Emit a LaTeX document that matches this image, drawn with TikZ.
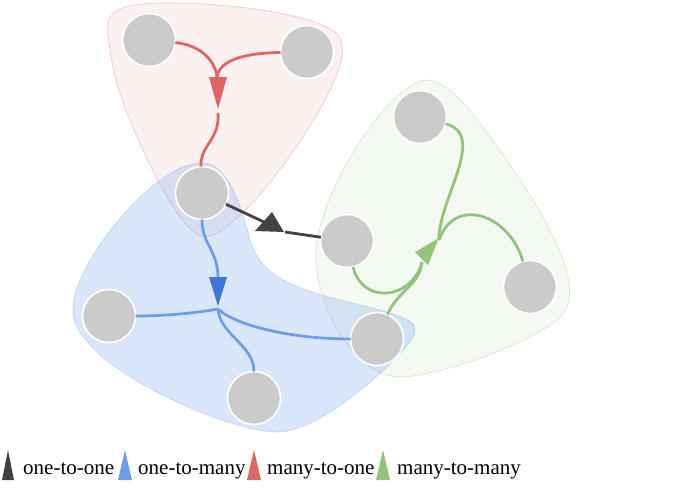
\documentclass[tikz,border=0pt]{standalone}
\usepackage{fontspec}
\setmainfont{Liberation Serif}
\definecolor{nodefill}{HTML}{CBCBCB}
\definecolor{redc}{HTML}{E06666}
\definecolor{bluec}{HTML}{6D9EEB}
\definecolor{bluedark}{HTML}{3C78D8}
\definecolor{greenc}{HTML}{93C47D}
\definecolor{blackc}{HTML}{434343}
\tikzset{
  vert/.style={circle, fill=nodefill, draw=white, line width=1.6pt, minimum size=53pt, inner sep=0pt, outer sep=0pt},
  edgeline/.style={line width=2.8pt},
  legtext/.style={anchor=base west, inner sep=0pt, font=\fontsize{21}{25}\selectfont},
  redhull/.style={fill=redc, fill opacity=0.09, draw=redc, draw opacity=0.3, line width=0.8pt},
  bluehull/.style={fill=bluec, fill opacity=0.25, draw=bluec, draw opacity=0.3, line width=0.8pt},
  greenhull/.style={fill=greenc, fill opacity=0.1, draw=greenc, draw opacity=0.3, line width=0.8pt},
}
\begin{document}
\begin{tikzpicture}[x=1pt,y=-1pt]
\useasboundingbox (0,0) rectangle (685,491);
% hulls
\path[redhull] (108,35) .. controls (105,10) and (120,4) .. (160,3)
  .. controls (230,2) and (320,15) .. (338,35)
  .. controls (348,50) and (340,70) .. (325,100)
  .. controls (290,165) and (230,237) .. (205,237)
  .. controls (185,238) and (150,170) .. (130,120)
  .. controls (115,85) and (110,55) .. (108,35) -- cycle;
\path[greenhull] (427,80) .. controls (450,80) and (480,120) .. (520,180)
  .. controls (560,240) and (575,280) .. (568,305)
  .. controls (560,335) and (440,377) .. (400,377)
  .. controls (360,377) and (320,320) .. (316,260)
  .. controls (312,200) and (390,80) .. (427,80) -- cycle;
\path[bluehull] (73,310) .. controls (70,270) and (150,165) .. (200,163)
  .. controls (225,160) and (240,200) .. (250,240)
  .. controls (262,280) and (300,290) .. (360,305)
  .. controls (400,315) and (420,320) .. (414,335)
  .. controls (405,355) and (320,435) .. (275,432)
  .. controls (230,430) and (140,390) .. (100,355)
  .. controls (80,335) and (73,325) .. (73,310) -- cycle;
% nodes
\node[vert] (r1) at (149,40) {};
\node[vert] (r2) at (307,52) {};
\node[vert] (c) at (202,193) {};
\node[vert] (l) at (109,316) {};
\node[vert] (b) at (254,398) {};
\node[vert] (br) at (377,339) {};
\node[vert] (g1) at (347,241) {};
\node[vert] (gt) at (420,117) {};
\node[vert] (gr) at (530,287) {};
% junctions
\coordinate (rj) at (217,77);
\coordinate (rt) at (218,113);
\coordinate (bj) at (218,278);
\coordinate (bt) at (218,309);
\coordinate (gj) at (422,262);
\coordinate (gt2) at (439,240);
\coordinate (kj) at (264,222);
\coordinate (kt) at (285,232);
% red edges
\draw[redc, edgeline] (r1) .. controls (200,45) and (215,60) .. (rj);
\draw[redc, edgeline] (r2) .. controls (250,53) and (220,58) .. (rj);
\fill[redc] (209,77) -- (227,77) -- (218,109) -- cycle;
\draw[redc, edgeline] (rt) .. controls (220,140) and (200,145) .. (c);
% blue edges
\draw[bluec, edgeline] (c) .. controls (202,245) and (218,250) .. (bj);
\fill[bluedark] (209,277) -- (227,277) -- (218,306) -- cycle;
\draw[bluec, edgeline] (bt) .. controls (190,314) and (160,316) .. (l);
\draw[bluec, edgeline] (bt) .. controls (235,325) and (290,339) .. (br);
\draw[bluec, edgeline] (bt) .. controls (220,335) and (254,345) .. (b);
% black edge
\draw[blackc, edgeline] (c) -- (kj);
\fill[blackc] (255,231) -- (272,212) -- (284,232) -- cycle;
\draw[blackc, edgeline] (kt) -- (g1);
% green edges
\draw[greenc, edgeline] (gt) .. controls (488,135) and (438,200) .. (gt2);
\draw[greenc, edgeline] (gr) .. controls (510,215) and (455,195) .. (gt2);
\draw[greenc, edgeline] (g1) .. controls (362,305) and (412,300) .. (gj);
\draw[greenc, edgeline] (br) .. controls (398,290) and (420,285) .. (gj);
\fill[greenc] (439,238) -- (415,252) -- (428,265) -- cycle;
% legend
\fill[blackc] (2,480) -- (14,480) -- (8,450) -- cycle;
\node[legtext] (t1) at (23,474) {one-to-one};
\fill[bluec] (118,480) -- (132,480) -- (125,450) -- cycle;
\node[legtext] (t2) at (138,474) {one-to-many};
\fill[redc] (247,480) -- (261,480) -- (254,450) -- cycle;
\node[legtext] (t3) at (267,474) {many-to-one};
\fill[greenc] (376,480) -- (390,480) -- (383,450) -- cycle;
\node[legtext] (t4) at (397,474) {many-to-many};
\end{tikzpicture}
\end{document}
